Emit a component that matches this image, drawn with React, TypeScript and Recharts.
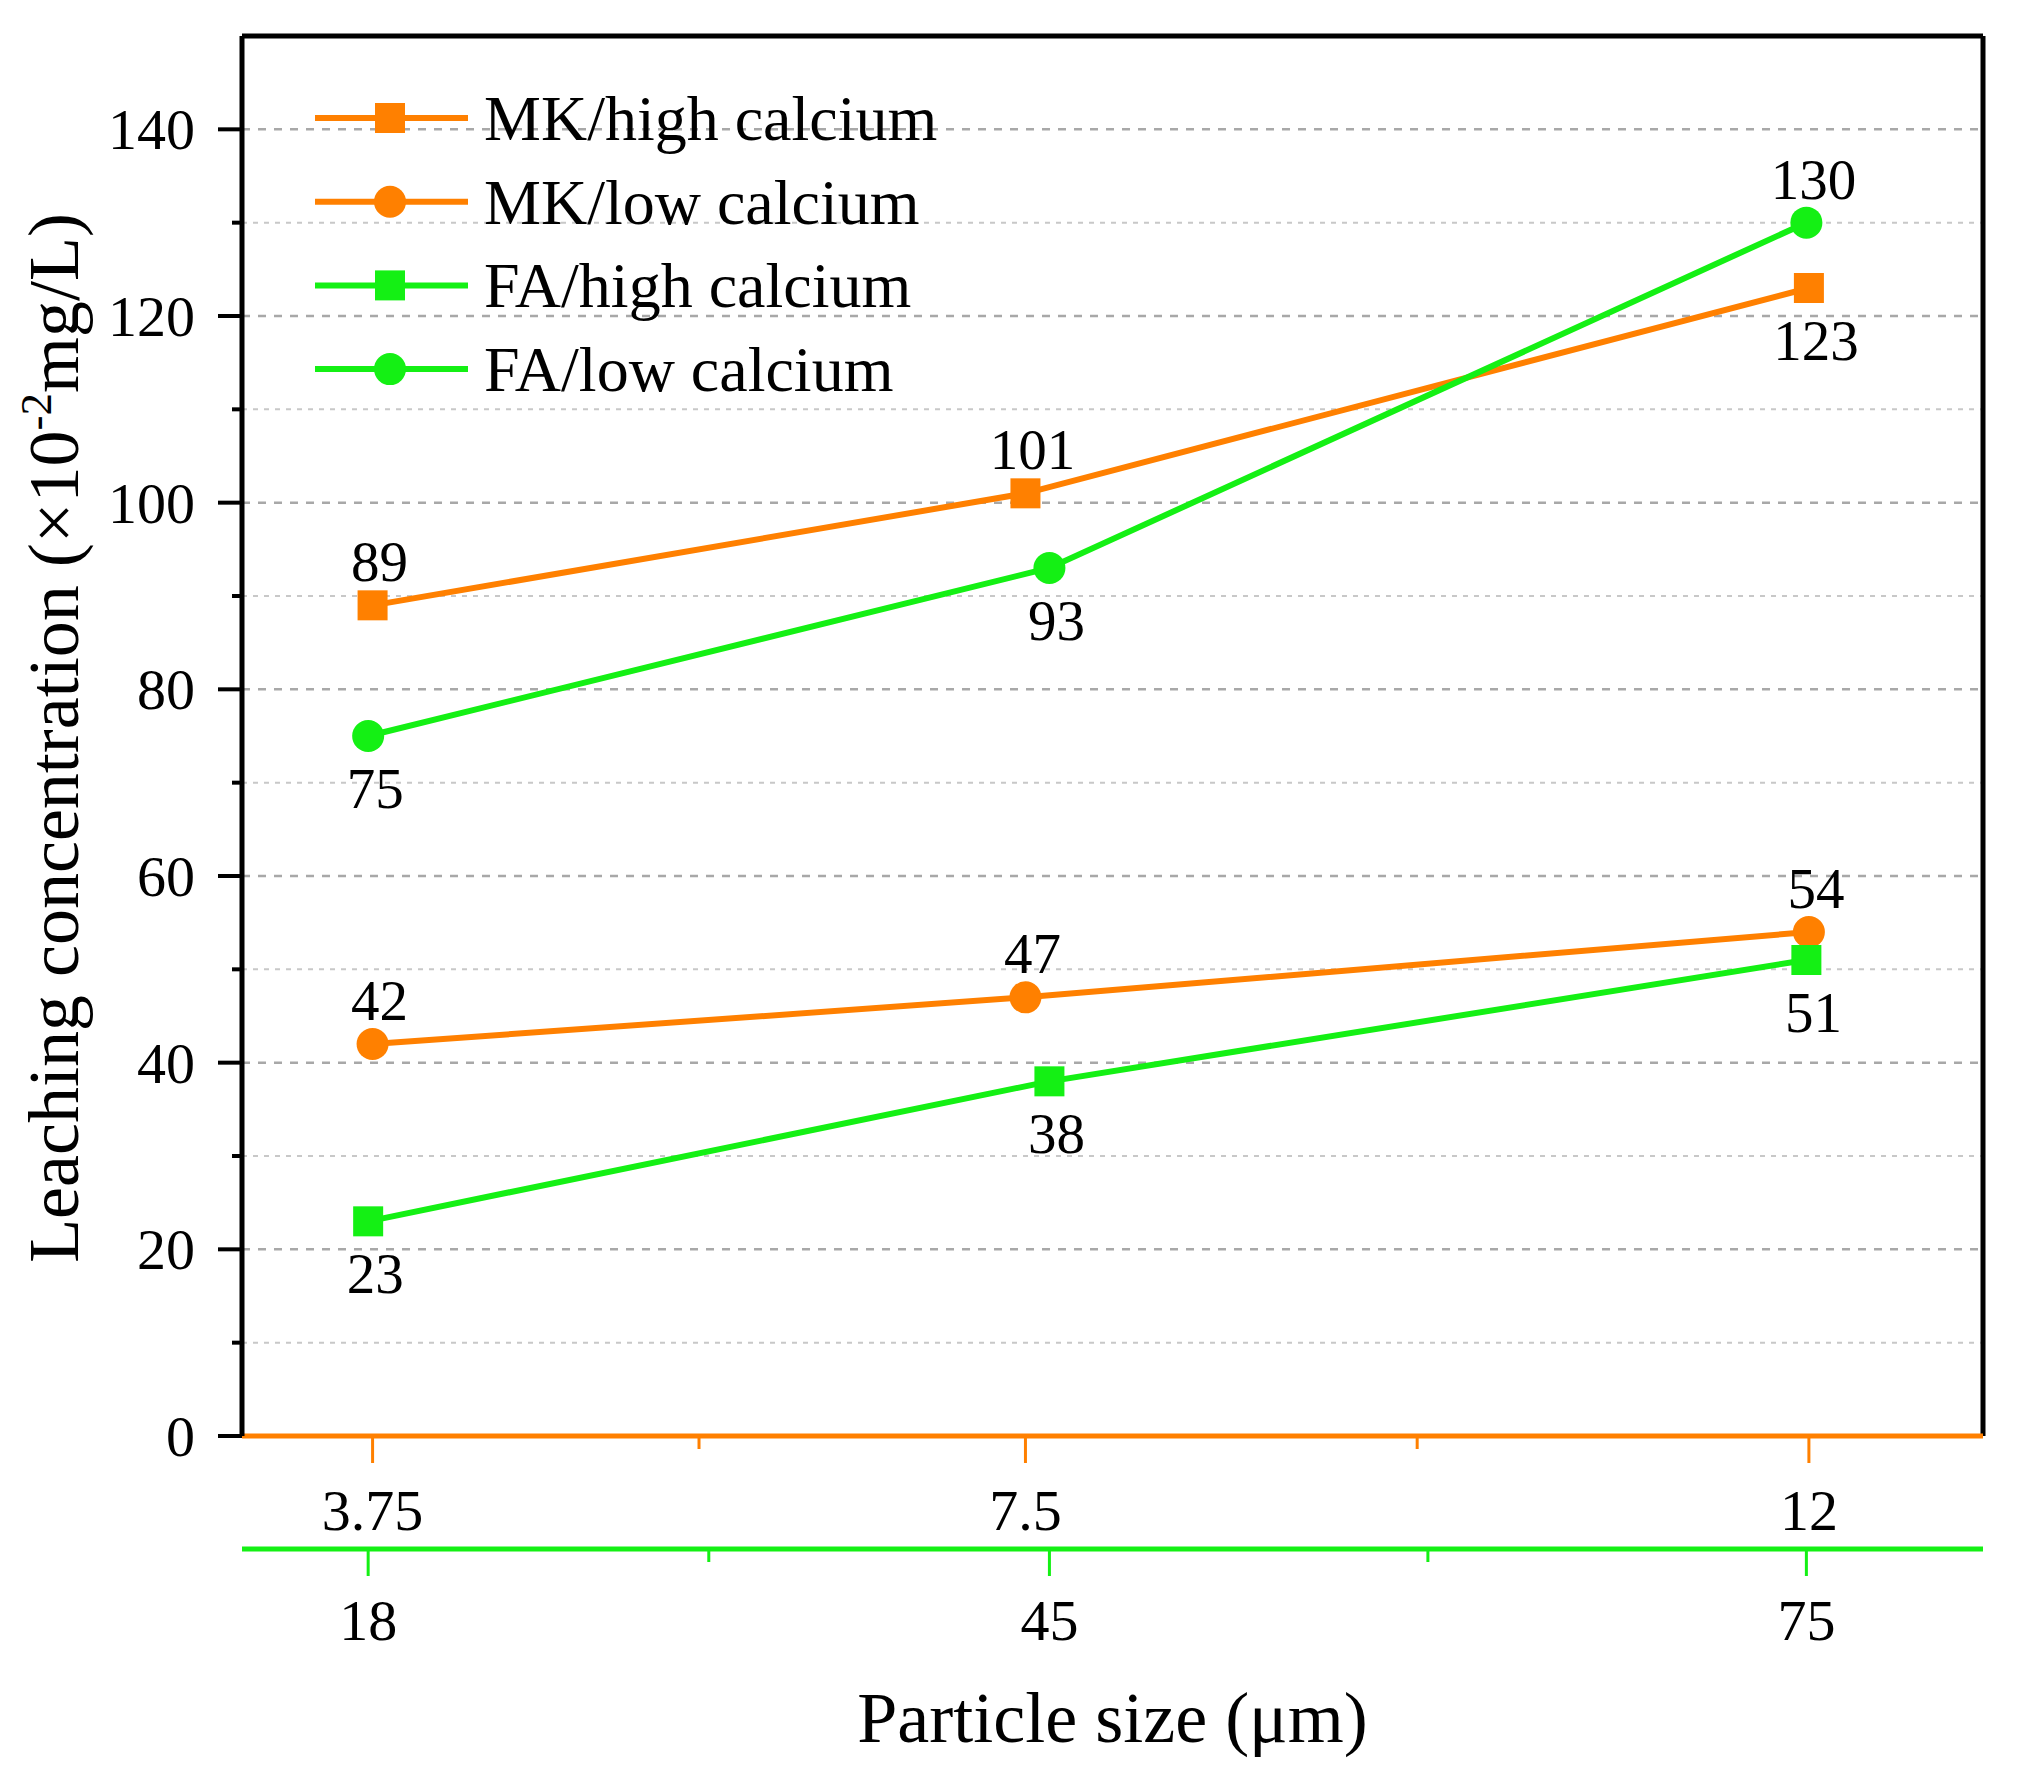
import React from 'react';
import { LineChart, Line, XAxis, YAxis, ReferenceLine, LabelList, Legend } from 'recharts';

const FONT = '"Liberation Serif", "Times New Roman", serif';
const ORANGE = '#FF8000';
const GREEN = '#14F014';
const MK_AXIS = 'a1';
const FA_AXIS = 'b2';

// categories (particle sizes)
const mkSizes = [3.75, 7.5, 12];
const faSizes = [18, 45, 75];

// series values
const mkHigh = [89, 101, 123];
const mkLow = [42, 47, 54];
const faHigh = [23, 38, 51];
const faLow = [75, 93, 130];

// label placement per point
const mkHighSides = ['top', 'top', 'bottom'];
const mkLowSides = ['top', 'top', 'top'];
const faHighSides = ['bottom', 'bottom', 'bottom'];
const faLowSides = ['bottom', 'bottom', 'top'];

const seriesNames = ['MK/high calcium', 'MK/low calcium', 'FA/high calcium', 'FA/low calcium'];

// axis ticks
const mkTicks = [3.75, 5.625, 7.5, 9.75, 12];
const mkTickLabels = ['3.75', '', '7.5', '', '12'];
const faTicks = [18, 31.5, 45, 60, 75];
const faTickLabels = ['18', '', '45', '', '75'];
const yTicks = [0, 10, 20, 30, 40, 50, 60, 70, 80, 90, 100, 110, 120, 130, 140, 150];
const yTickLabels = ['0', '', '20', '', '40', '', '60', '', '80', '', '100', '', '120', '', '140', ''];
const gridMajor = [20, 40, 60, 80, 100, 120, 140];
const gridMinor = [10, 30, 50, 70, 90, 110, 130];

const series = [
  { name: seriesNames[0], axis: MK_AXIS, xs: mkSizes, ys: mkHigh, sides: mkHighSides, color: ORANGE, shape: 'square' },
  { name: seriesNames[1], axis: MK_AXIS, xs: mkSizes, ys: mkLow, sides: mkLowSides, color: ORANGE, shape: 'circle' },
  { name: seriesNames[2], axis: FA_AXIS, xs: faSizes, ys: faHigh, sides: faHighSides, color: GREEN, shape: 'square' },
  { name: seriesNames[3], axis: FA_AXIS, xs: faSizes, ys: faLow, sides: faLowSides, color: GREEN, shape: 'circle' },
].map((s) => ({ ...s, data: s.xs.map((x, i) => ({ x, y: s.ys[i], side: s.sides[i] })) }));

const makeXTick = (ticks: number[], labels: string[], color: string, labelDy: number) => (props: any) => {
  const { x, y, payload } = props;
  const i = ticks.indexOf(payload.value);
  const label = i >= 0 ? labels[i] : '';
  const major = label !== '';
  return (
    <g>
      <line x1={x} x2={x} y1={y} y2={y + (major ? 27 : 13)} stroke={color} strokeWidth={3} />
      {major && (
        <text x={x} y={y + labelDy} textAnchor="middle" fontSize={58} fontFamily={FONT} fill="#000">
          {label}
        </text>
      )}
    </g>
  );
};

const YTick = (props: any) => {
  const { x, y, payload } = props;
  const i = yTicks.indexOf(payload.value);
  const label = i >= 0 ? yTickLabels[i] : '';
  const major = label !== '';
  if (payload.value === 150) return <g />;
  return (
    <g>
      <line x1={x} x2={x - (major ? 24 : 10)} y1={y} y2={y} stroke="#000" strokeWidth={4} />
      {major && (
        <text x={x - 47} y={y + 20} textAnchor="end" fontSize={58} fontFamily={FONT} fill="#000">
          {label}
        </text>
      )}
    </g>
  );
};

const YTitle = (props: any) => {
  const vb = props && props.viewBox ? props.viewBox : { x: 0, y: 28, width: 234, height: 1400 };
  const cx = vb.x + 70;
  const cy = vb.y + vb.height / 2 + 2;
  return (
    <text x={cx} y={cy} transform={`rotate(-90 ${cx} ${cy})`} textAnchor="middle" fontSize={72} fontFamily={FONT} fill="#000">
      Leaching concentration (×10
      <tspan dy={-27} fontSize={45}>-2</tspan>
      <tspan dy={27}>mg/L)</tspan>
    </text>
  );
};

const XTitle = (props: any) => {
  const vb = props && props.viewBox ? props.viewBox : { x: 234, y: 1541, width: 1741, height: 200 };
  const cx = vb.x + vb.width / 2;
  return (
    <text x={cx} y={vb.y + 193} textAnchor="middle" fontSize={72} fontFamily={FONT} fill="#000">
      Particle size (μm)
    </text>
  );
};

const Marker = ({ shape, color, cx, cy }: { shape: string; color: string; cx: number; cy: number }) =>
  shape === 'square' ? (
    <rect x={cx - 15} y={cy - 15} width={30} height={30} fill={color} />
  ) : (
    <circle cx={cx} cy={cy} r={16} fill={color} />
  );

const renderLegend = () => (
  <svg width={720} height={340} style={{ display: 'block' }}>
    {series.map((s, i) => {
      const cy = 42 + i * 83.7;
      return (
        <g key={s.name}>
          <line x1={8} x2={161} y1={cy} y2={cy} stroke={s.color} strokeWidth={6} />
          <Marker shape={s.shape} color={s.color} cx={83} cy={cy} />
          <text x={177} y={cy + 22} fontSize={64} fontFamily={FONT} fill="#000">
            {s.name}
          </text>
        </g>
      );
    })}
  </svg>
);

const makeLabel = (sides: string[]) => (p: any) => {
  const x = p.x ?? p.viewBox?.x;
  const y = p.y ?? p.viewBox?.y;
  const side = sides[p.index] || 'top';
  return (
    <text x={x + 7} y={side === 'top' ? y - 24 : y + 72} textAnchor="middle" fontSize={57} fontFamily={FONT} fill="#000">
      {p.value}
    </text>
  );
};

export default function App() {
  return (
    <div style={{ width: 2000, height: 1760, position: 'relative' }}>
      <LineChart width={2000} height={1760} margin={{ top: 28, right: 25, left: 0, bottom: 19 }}>
        <XAxis
          xAxisId={MK_AXIS}
          type="number"
          dataKey="x"
          domain={[3, 13]}
          ticks={mkTicks}
          interval={0}
          height={113}
          tickSize={0}
          tickMargin={0}
          tickLine={false}
          axisLine={{ stroke: ORANGE, strokeWidth: 5 }}
          tick={makeXTick(mkTicks, mkTickLabels, ORANGE, 94)}
          allowDataOverflow
        />
        <XAxis
          xAxisId={FA_AXIS}
          type="number"
          dataKey="x"
          domain={[13, 82]}
          ticks={faTicks}
          interval={0}
          height={200}
          tickSize={0}
          tickMargin={0}
          tickLine={false}
          axisLine={{ stroke: GREEN, strokeWidth: 5 }}
          tick={makeXTick(faTicks, faTickLabels, GREEN, 91)}
          label={XTitle}
          allowDataOverflow
        />
        <YAxis
          type="number"
          domain={[0, 150]}
          ticks={yTicks}
          interval={0}
          width={234}
          tickSize={0}
          tickMargin={0}
          tickLine={false}
          axisLine={{ stroke: '#000', strokeWidth: 5 }}
          tick={YTick}
          label={YTitle}
          allowDataOverflow
        />
        {gridMinor.map((v) => (
          <ReferenceLine key={'mi' + v} xAxisId={MK_AXIS} y={v} stroke="#c8c8c8" strokeWidth={2} strokeDasharray="5 6" />
        ))}
        {gridMajor.map((v) => (
          <ReferenceLine key={'ma' + v} xAxisId={MK_AXIS} y={v} stroke="#a8a8a8" strokeWidth={2.5} strokeDasharray="8 8" />
        ))}
        <ReferenceLine xAxisId={MK_AXIS} y={150} stroke="#000" strokeWidth={5} />
        <ReferenceLine xAxisId={MK_AXIS} x={13} stroke="#000" strokeWidth={5} />
        <Legend
          layout="vertical"
          align="center"
          verticalAlign="middle"
          content={renderLegend}
          wrapperStyle={{ position: 'absolute', left: 299, top: 68, width: 720, height: 340 }}
        />
        {series.map((s) => (
          <Line
            key={s.name}
            name={s.name}
            xAxisId={s.axis}
            data={s.data}
            dataKey="y"
            type="linear"
            stroke={s.color}
            strokeWidth={6}
            isAnimationActive={false}
            activeDot={false}
            dot={(p: any) => <Marker key={s.name + p.index} shape={s.shape} color={s.color} cx={p.cx} cy={p.cy} />}
          >
            <LabelList dataKey="y" content={makeLabel(s.sides)} />
          </Line>
        ))}
      </LineChart>
    </div>
  );
}
